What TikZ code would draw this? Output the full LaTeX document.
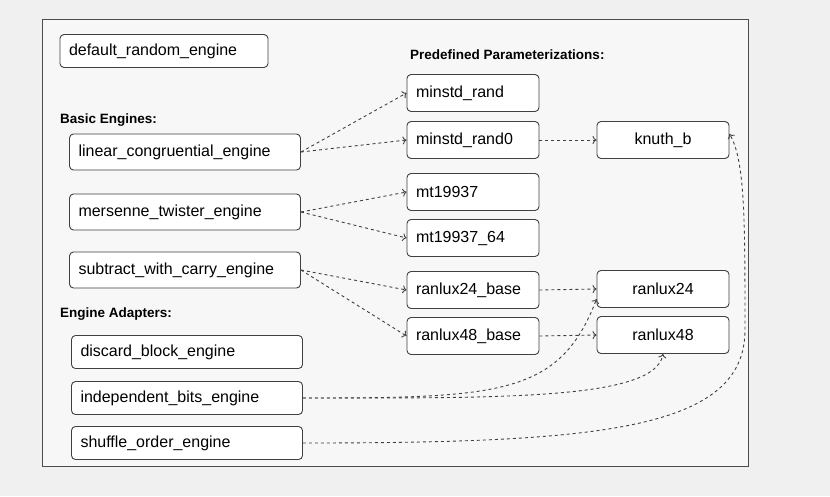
\documentclass[tikz,border=0pt]{standalone}
\usepackage{fontspec}
\setmainfont{Liberation Sans}
\usetikzlibrary{arrows.meta}
\begin{document}
\begin{tikzpicture}[x=1pt,y=-1pt,
 box/.style={draw=black!75,rounded corners=4pt,fill=white,line width=0.9pt,font=\fontsize{16}{18}\selectfont,inner xsep=0pt},
 lbox/.style={box,minimum width=231pt,text width=213pt,align=left,minimum height=36pt},
 abox/.style={box,minimum width=231pt,text width=213pt,align=left,minimum height=33pt},
 mbox/.style={box,minimum width=132pt,text width=114pt,align=left,minimum height=37pt},
 rbox/.style={box,minimum width=132pt,align=center,minimum height=37pt},
 hd/.style={font=\fontsize{13.5}{15}\selectfont\bfseries,anchor=west,inner sep=0pt},
 ar/.style={draw=black!75,dashed,line width=0.9pt,-{To[length=4pt,width=8pt]}}]
\useasboundingbox (0,0) rectangle (830,496);
\fill[black!6] (0,0) rectangle (830,496);
\draw[black!70,line width=0.9pt,fill=black!3] (42,19) rectangle (748,466);
\node[box,minimum width=208pt,text width=190pt,align=left,minimum height=33pt] (dre) at (164,51) {default\_random\_engine};
\node[hd] (hb) at (60,120) {Basic Engines:};
\node[lbox] (lce) at (185,152) {linear\_congruential\_engine};
\node[lbox] (mte) at (185,212) {mersenne\_twister\_engine};
\node[lbox] (swc) at (185,270) {subtract\_with\_carry\_engine};
\node[hd] (ha) at (60,314) {Engine Adapters:};
\node[abox] (dbe) at (187,352) {discard\_block\_engine};
\node[abox] (ibe) at (187,398) {independent\_bits\_engine};
\node[abox] (soe) at (187,443) {shuffle\_order\_engine};
\node[hd] (hp) at (410,55) {Predefined Parameterizations:};
\node[mbox] (mr) at (473,93) {minstd\_rand};
\node[mbox] (mr0) at (473,140) {minstd\_rand0};
\node[mbox] (mt) at (473,192) {mt19937};
\node[mbox] (mt64) at (473,238) {mt19937\_64};
\node[mbox] (r24b) at (473,290) {ranlux24\_base};
\node[mbox] (r48b) at (473,336) {ranlux48\_base};
\node[rbox] (kb) at (663,140) {knuth\_b};
\node[rbox] (r24) at (663,289) {ranlux24};
\node[rbox] (r48) at (663,335) {ranlux48};
\draw[ar] (lce.east) -- (mr.west);
\draw[ar] (lce.east) -- (mr0.west);
\draw[ar] (mr0.east) -- (kb.west);
\draw[ar] (mte.east) -- (mt.west);
\draw[ar] (mte.east) -- (mt64.west);
\draw[ar] (swc.east) -- (r24b.west);
\draw[ar] (swc.east) -- (r48b.west);
\draw[ar] (r24b.east) -- (r24.west);
\draw[ar] (r48b.east) -- (r48.west);
\draw[ar] (ibe.east) .. controls (500,398) and (560,395) .. ([yshift=-10pt]r24.west);
\draw[ar] (ibe.east) .. controls (500,398) and (655,400) .. (r48.south);
\draw[ar] (soe.east) .. controls (600,443) and (745,430) .. (745,330) .. controls (745,220) and (745,160) .. ([yshift=6pt]kb.east);
\end{tikzpicture}
\end{document}
